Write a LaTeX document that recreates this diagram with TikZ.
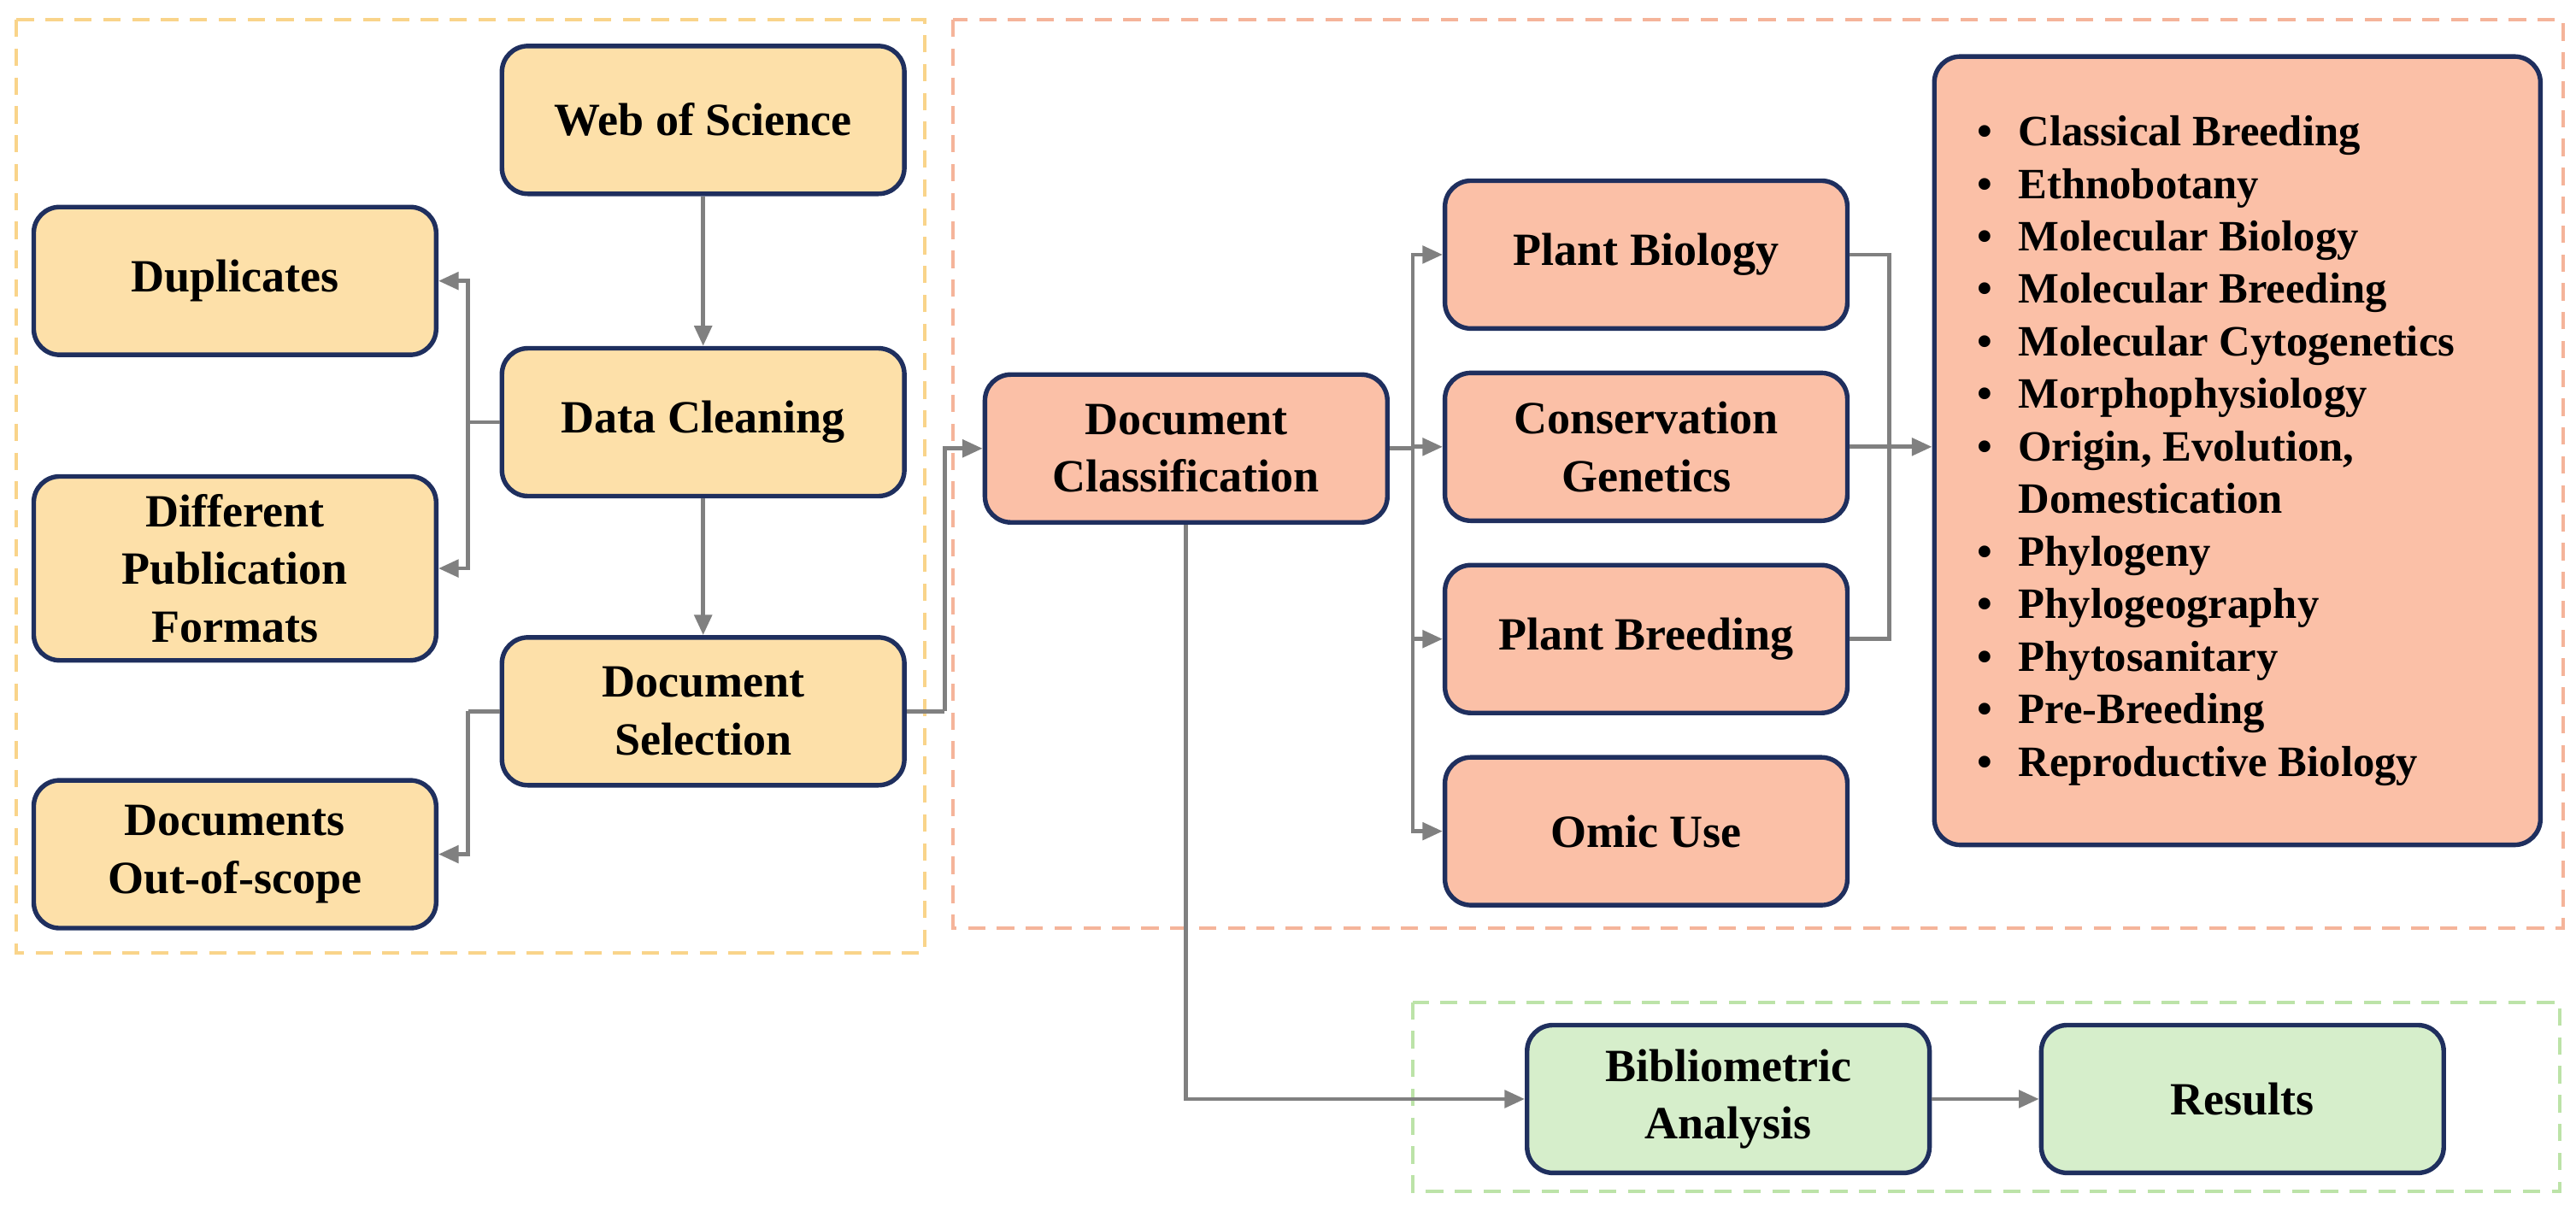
\documentclass[tikz,border=0pt]{standalone}
\usepackage{fontspec}
\setmainfont{Liberation Serif}
\usetikzlibrary{arrows.meta}
\definecolor{yfill}{HTML}{FDE0A9}
\definecolor{sfill}{HTML}{FBC0A7}
\definecolor{gfill}{HTML}{D6EECB}
\definecolor{navy}{HTML}{1F2F5E}
\definecolor{ydash}{HTML}{F9D48A}
\definecolor{sdash}{HTML}{F5B49A}
\definecolor{gdash}{HTML}{BCE3A8}
\begin{document}
\begin{tikzpicture}[x=0.02cm,y=-0.02cm,
  box/.style={draw=navy,line width=1.6pt,rounded corners=9pt,minimum width=4.9cm,minimum height=1.8cm,align=center,font=\fontsize{16}{20}\selectfont\bfseries},
  yb/.style={box,fill=yfill}, sb/.style={box,fill=sfill}, gb/.style={box,fill=gfill},
  con/.style={draw=gray,line width=1.4pt},
  arr/.style={con,-{Triangle[length=7pt,width=6pt]}},
  dbox/.style={dashed,line width=1.2pt,dash pattern=on 6pt off 4pt}]
\useasboundingbox (0,0) rectangle (1568,737);
\draw[dbox,draw=ydash] (10,12) rectangle (563,580);
\draw[dbox,draw=sdash] (580,12) rectangle (1560,565);
\draw[dbox,draw=gdash] (860,610) rectangle (1558,725);
\node[yb] (wos) at (428,73) {Web of Science};
\node[yb] (dup) at (143,171) {Duplicates};
\node[yb] (dc) at (428,257) {Data Cleaning};
\node[yb,minimum height=2.24cm] (dpf) at (143,346) {Different\\Publication\\Formats};
\node[yb] (ds) at (428,433) {Document\\Selection};
\node[yb] (oos) at (143,520) {Documents\\Out-of-scope};
\node[sb] (cls) at (722,273) {Document\\Classification};
\node[sb] (pb) at (1002,155) {Plant Biology};
\node[sb] (cg) at (1002,272) {Conservation\\Genetics};
\node[sb] (pbr) at (1002,389) {Plant Breeding};
\node[sb] (omic) at (1002,506) {Omic Use};
\node[gb] (bib) at (1052,669) {Bibliometric\\Analysis};
\node[gb] (res) at (1365,669) {Results};
\node[draw=navy,line width=1.6pt,rounded corners=9pt,fill=sfill,minimum width=7.38cm,minimum height=9.6cm,anchor=north west,inner sep=0pt] (list) at (1176,33) {};
\node[anchor=north west,font=\fontsize{15}{18.2}\selectfont\bfseries,align=left,inner sep=0pt] at (1203,66) {%
\renewcommand{\arraystretch}{1.0}%
\begin{tabular}{@{}l@{\hspace{0.32cm}}l@{}}
\textbullet & Classical Breeding\\
\textbullet & Ethnobotany\\
\textbullet & Molecular Biology\\
\textbullet & Molecular Breeding\\
\textbullet & Molecular Cytogenetics\\
\textbullet & Morphophysiology\\
\textbullet & Origin, Evolution,\\
 & Domestication\\
\textbullet & Phylogeny\\
\textbullet & Phylogeography\\
\textbullet & Phytosanitary\\
\textbullet & Pre-Breeding\\
\textbullet & Reproductive Biology
\end{tabular}};
\draw[arr] (wos) -- (dc);
\draw[arr] (dc) -- (ds);
\coordinate (j1) at (285,257);
\draw[con] (dc.west) -- (j1);
\draw[arr] (j1) |- (dup.east);
\draw[arr] (j1) |- (dpf.east);
\coordinate (j2) at (285,433);
\draw[con] (ds.west) -- (j2);
\draw[arr] (j2) |- (oos.east);
\coordinate (j3) at (575,433);
\draw[con] (ds.east) -- (j3);
\draw[arr] (j3) |- (cls.west);
\coordinate (j4) at (860,273);
\draw[con] (cls.east) -- (j4);
\draw[arr] (j4) |- (pb.west);
\draw[arr] (j4) |- (cg.west);
\draw[arr] (j4) |- (pbr.west);
\draw[arr] (j4) |- (omic.west);
\coordinate (j5) at (1150,272);
\draw[con] (pb.east) -| (j5);
\draw[con] (pbr.east) -| (j5);
\draw[arr] (cg.east) -- (list.west |- cg.east);
\draw[arr] (cls.south) |- (bib.west);
\draw[arr] (bib) -- (res);
\end{tikzpicture}
\end{document}
